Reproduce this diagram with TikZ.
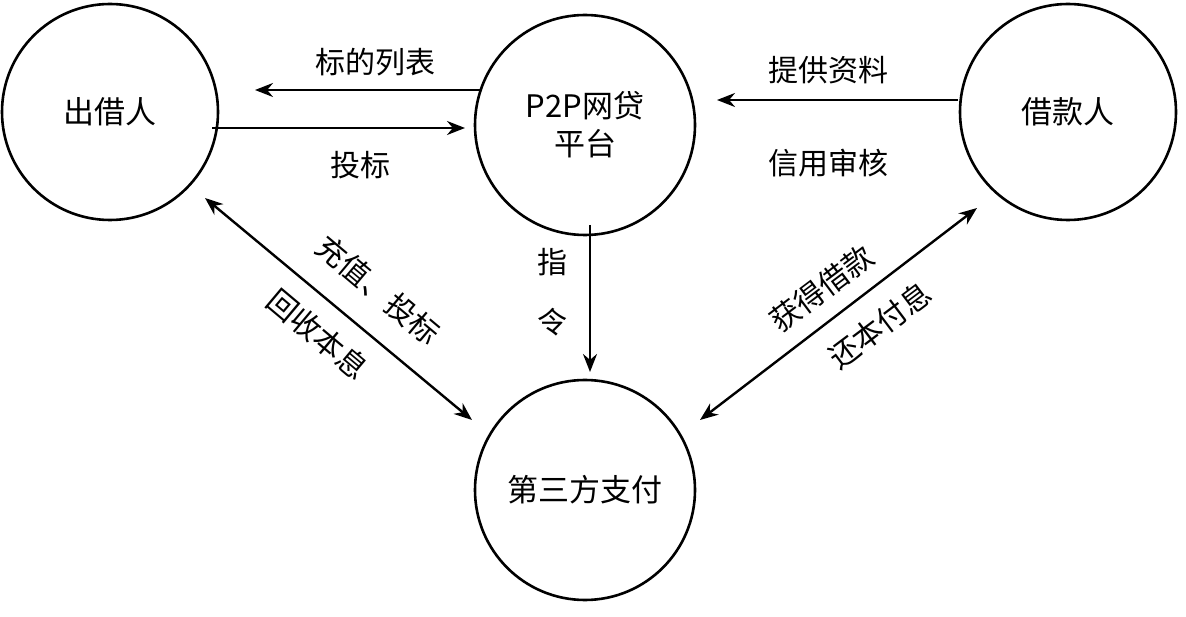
\documentclass[tikz,border=0pt]{standalone}
\usepackage{fontspec}
\newfontfamily\cjk{Noto Sans CJK SC}
\usetikzlibrary{arrows.meta}
\begin{document}
\begin{tikzpicture}[x=1pt,y=-1pt,
  circ/.style={draw,line width=2.6pt,circle,minimum size=216pt,inner sep=0pt,font=\cjk\fontsize{31}{38}\selectfont,align=center},
  lab/.style={font=\cjk\fontsize{30}{34}\selectfont,inner sep=0pt},
  arr/.style={line width=2.4pt,-{Stealth[length=18pt,width=14pt]}},
  darr/.style={line width=2.4pt,{Stealth[length=18pt,width=14pt]}-{Stealth[length=18pt,width=14pt]}}]
\useasboundingbox (0,0) rectangle (1186,617);
\node[circ] (L) at (110,112) {出借人};
\node[circ,minimum size=220pt] (P) at (585,125) {P2P网贷\\平台};
\node[circ] (R) at (1068,112) {借款人};
\node[circ,minimum size=220pt] (T) at (585,490) {第三方支付};
\coordinate (a1) at (482,90); \coordinate (a2) at (255,90);
\draw[arr] (a1) -- (a2);
\node[lab] (t1) at (375,62) {标的列表};
\coordinate (b1) at (212,128); \coordinate (b2) at (465,128);
\draw[arr] (b1) -- (b2);
\node[lab] (t2) at (360,165) {投标};
\coordinate (c1) at (958,100); \coordinate (c2) at (717,100);
\draw[arr] (c1) -- (c2);
\node[lab] (t3) at (828,70) {提供资料};
\node[lab] (t4) at (828,163) {信用审核};
\coordinate (d1) at (590,225); \coordinate (d2) at (590,372);
\draw[arr] (d1) -- (d2);
\node[lab] (t5) at (552,262) {指};
\node[lab] (t6) at (552,322) {令};
\coordinate (e1) at (205,198); \coordinate (e2) at (472,420);
\draw[darr] (e1) -- (e2);
\node[lab,rotate=-40] (t7) at (378,290) {充值、投标};
\node[lab,rotate=-40] (t8) at (318,334) {回收本息};
\coordinate (f1) at (977,208); \coordinate (f2) at (700,420);
\draw[darr] (f1) -- (f2);
\node[lab,rotate=37] (t9) at (822,288) {获得借款};
\node[lab,rotate=37] (t10) at (880,325) {还本付息};
\end{tikzpicture}
\end{document}
